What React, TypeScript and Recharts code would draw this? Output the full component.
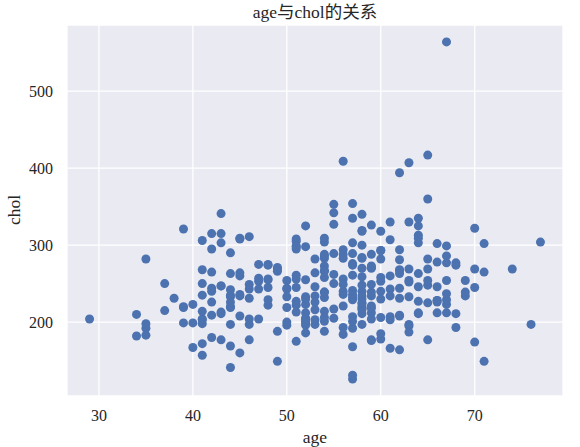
import React from 'react';
import { ScatterChart, Scatter, XAxis, YAxis, CartesianGrid } from 'recharts';

const ages: number[] = [
  63,37,41,56,57,57,56,44,52,57,
  54,48,49,64,58,50,58,66,43,69,
  59,44,42,61,40,71,59,51,65,53,
  41,65,44,54,51,46,54,54,65,65,
  51,48,45,53,39,52,44,47,53,53,
  51,66,62,44,63,52,48,45,34,57,
  71,54,52,41,58,35,51,45,44,62,
  54,51,29,51,43,55,51,59,52,58,
  41,45,60,52,42,67,68,46,54,58,
  48,57,52,54,45,53,62,52,43,53,
  42,59,63,42,50,68,69,45,50,50,
  64,57,64,43,55,37,41,56,46,46,
  64,59,41,54,39,34,47,67,52,74,
  54,49,42,41,41,49,60,62,57,64,
  51,43,42,67,76,70,44,60,44,42,
  66,71,64,66,39,58,47,35,58,56,
  56,55,41,67,67,62,63,53,
  56,48,58,58,60,40,60,64,43,57,
  55,65,61,58,50,44,60,54,50,41,
  51,58,54,60,60,59,46,67,62,65,
  44,60,58,68,62,52,59,60,49,59,
  57,61,39,61,56,43,62,63,65,48,
  63,55,65,56,54,70,62,35,59,64,
  47,57,55,64,70,51,58,60,77,35,
  70,59,64,57,56,48,56,66,54,69,
  51,43,62,67,59,45,58,50,62,38,
  66,52,53,63,54,66,55,49,54,56,
  46,61,67,58,47,52,58,57,58,61,
  42,52,59,40,61,46,59,57,57,55,
  61,58,58,67,44,63,63,59,57,45,
  68,57,57,
];

const chols: number[] = [
  233,250,204,236,354,192,294,263,199,168,
  239,275,266,211,283,219,340,226,247,239,
  234,233,226,243,199,302,212,175,417,197,
  198,177,219,273,213,177,304,232,269,360,
  308,245,208,264,321,325,235,257,216,234,
  256,302,231,141,252,201,222,260,182,303,
  265,309,186,203,211,183,222,234,220,209,
  258,227,204,261,213,250,245,221,205,240,
  250,308,318,298,265,564,277,197,214,248,
  255,207,223,288,160,226,394,233,315,246,
  244,270,195,240,196,211,234,236,244,254,
  325,126,313,211,262,215,214,193,204,243,
  303,271,268,267,199,210,204,277,196,269,
  201,271,295,235,306,269,178,208,201,263,
  295,303,209,223,197,245,242,240,226,180,
  228,149,227,278,220,197,253,192,220,221,
  240,342,157,286,229,268,254,203,
  256,229,284,224,206,167,230,335,177,276,
  353,225,330,230,243,290,253,266,233,172,
  305,216,188,282,185,326,231,254,267,248,
  197,258,270,274,164,255,239,293,188,177,
  229,260,219,307,249,341,263,330,254,256,
  407,217,282,288,239,174,281,198,288,309,
  243,289,289,246,322,299,300,293,304,282,
  269,249,212,274,184,274,409,246,283,254,
  298,247,294,299,273,309,259,200,244,231,
  228,230,282,269,206,212,327,149,286,283,
  249,234,237,234,275,212,218,261,319,166,
  315,204,218,223,207,311,204,232,335,205,
  203,318,225,212,169,187,197,176,241,264,
  193,131,236,
];

const xTicks: number[] = [30, 40, 50, 60, 70];
const yTicks: number[] = [200, 300, 400, 500];
const titleText = 'age与chol的关系';
const xLabel = 'age';
const yLabel = 'chol';

const data = ages.map((a, i) => ({ age: a, chol: chols[i] }));

const FONT = '"Liberation Serif", "Times New Roman", "Noto Sans CJK SC", serif';
const TEXT_COLOR = '#262626';

const Dot = (props: any) => {
  const { cx, cy } = props;
  if (cx == null || cy == null) return null;
  return <circle cx={cx} cy={cy} r={4.5} fill="#4C72B0" />;
};

export default function App() {
  return (
    <div style={{ position: 'absolute', left: 0, top: 0, width: 580, height: 447, background: '#fff' }}>
      <ScatterChart
        width={580}
        height={447}
        margin={{ top: 25, right: 17, bottom: 0, left: 0 }}
      >
        <CartesianGrid fill="#EAEAF2" stroke="#ffffff" strokeWidth={1.3} />
        <XAxis
          type="number"
          dataKey="age"
          domain={[26.6, 79.4]}
          ticks={xTicks}
          allowDataOverflow
          axisLine={false}
          tickLine={false}
          tickSize={6}
          tickMargin={8}
          height={51}
          tick={{ fill: TEXT_COLOR, fontSize: 16, fontFamily: FONT }}
        />
        <YAxis
          type="number"
          dataKey="chol"
          domain={[104, 586]}
          ticks={yTicks}
          allowDataOverflow
          axisLine={false}
          tickLine={false}
          tickSize={6}
          tickMargin={8}
          width={67}
          tick={{ fill: TEXT_COLOR, fontSize: 16, fontFamily: FONT }}
        />
        <Scatter data={data} shape={Dot} isAnimationActive={false} />
      </ScatterChart>
      <svg
        width={580}
        height={447}
        style={{ position: 'absolute', left: 0, top: 0, pointerEvents: 'none' }}
      >
        <text x={315} y={18} textAnchor="middle" fontSize={17.5} fontFamily={FONT} fill={TEXT_COLOR}>
          {titleText}
        </text>
        <text x={315} y={443} textAnchor="middle" fontSize={17.5} fontFamily={FONT} fill={TEXT_COLOR}>
          {xLabel}
        </text>
        <text
          transform="translate(20, 210) rotate(-90)"
          textAnchor="middle"
          fontSize={17.5}
          fontFamily={FONT}
          fill={TEXT_COLOR}
        >
          {yLabel}
        </text>
      </svg>
    </div>
  );
}
